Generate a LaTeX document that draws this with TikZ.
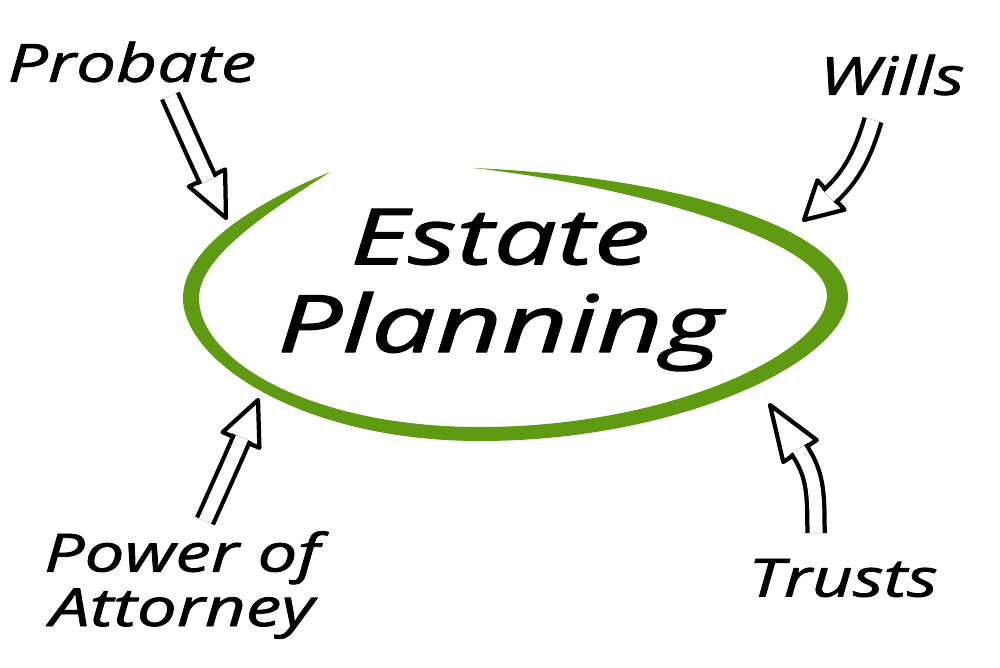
\documentclass[tikz,border=0pt]{standalone}
\usepackage{fontspec}
\setmainfont{Open Sans}[FakeStretch=1.35, FakeBold=1.5]
\newfontfamily\titlefont{Open Sans}[FakeStretch=1.45, FakeBold=1.8]
\usetikzlibrary{calc}
\definecolor{leafgreen}{RGB}{94,154,18}
\newcommand{\hollowarrow}[4]{%
  \filldraw[arrow line, fill=white] ($(#3)!0.4cm!90:(#4)$) -- (#4) -- ($(#3)!0.4cm!-90:(#4)$) -- cycle;
  \draw[arrow line, double=white, double distance=0.26cm] (#1) .. controls (#2) and ($(#3)!-0.5!(#4)$) .. ($(#3)!1.5pt!(#4)$);
}
\begin{document}
\begin{tikzpicture}[x=0.02cm, y=-0.02cm, line join=round]
	\tikzset{title text/.style={font=\titlefont\fontsize{44}{50}\selectfont\itshape, align=center},
		label text/.style={font=\fontsize{30}{31}\selectfont\itshape, align=center},
		arrow line/.style={line width=0.085cm, line cap=butt}}
	\useasboundingbox (0,0) rectangle (1000,667);
	\fill[leafgreen] (330,172) .. controls (250,205) and (183,250) .. (183,298)
		.. controls (183,360) and (300,441) .. (480,441)
		.. controls (680,441) and (850,360) .. (848,295)
		.. controls (846,235) and (700,178) .. (473,168)
		.. controls (620,184) and (826,238) .. (827,295)
		.. controls (828,352) and (670,427) .. (480,427)
		.. controls (310,427) and (199,360) .. (199,298)
		.. controls (199,255) and (275,208) .. (330,172) -- cycle;
	\node[title text] (estate) at (500,290) {Estate\\{\fontsize{45}{50}\selectfont Planning}};
	\node[label text] (probate) at (132,62) {Probate};
	\node[label text] (wills) at (892,75) {Wills};
	\node[label text] (attorney) at (182,585) {Power of\\Attorney};
	\node[label text] (trusts) at (843,578) {Trusts};
	\coordinate (probate tail) at (170,96);
	\coordinate (probate base) at (207,178);
	\coordinate (probate tip) at (226,218);
	\coordinate (wills tail) at (873,120);
	\coordinate (wills bend) at (860,165);
	\coordinate (wills base) at (831,195);
	\coordinate (wills tip) at (804,220);
	\coordinate (attorney tail) at (205,521);
	\coordinate (attorney base) at (241,440);
	\coordinate (attorney tip) at (258,400);
	\coordinate (trusts tail) at (816,533);
	\coordinate (trusts bend) at (816,490);
	\coordinate (trusts base) at (800,451);
	\coordinate (trusts tip) at (770,405);
	\hollowarrow{probate tail}{probate tail}{probate base}{probate tip}
	\hollowarrow{wills tail}{wills bend}{wills base}{wills tip}
	\hollowarrow{attorney tail}{attorney tail}{attorney base}{attorney tip}
	\hollowarrow{trusts tail}{trusts bend}{trusts base}{trusts tip}
\end{tikzpicture}
\end{document}
